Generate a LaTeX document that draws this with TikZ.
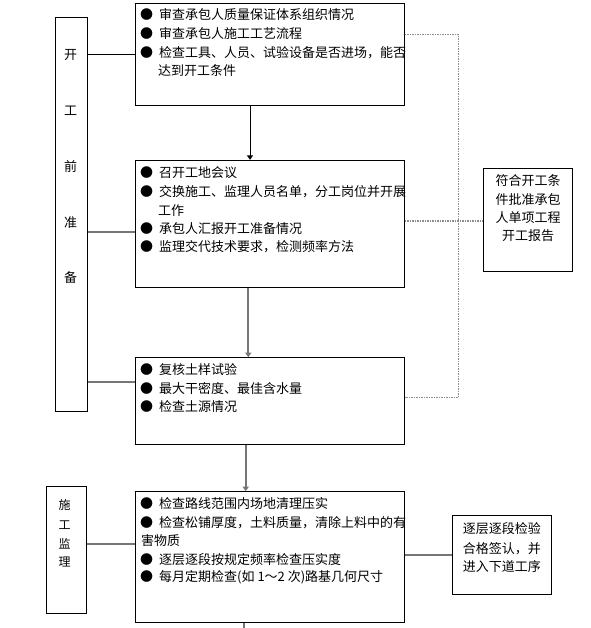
\documentclass[tikz,border=0pt]{standalone}
\usepackage{fontspec}
\setmainfont{Noto Sans CJK SC}
\usetikzlibrary{arrows.meta}
\definecolor{linkgray}{RGB}{118,118,118}
\definecolor{dotgray}{RGB}{140,140,140}
\newcommand{\itm}{\makebox[19pt][l]{●}}
\begin{document}
\begin{tikzpicture}[x=1pt,y=-1pt]
\tikzstyle{box}=[draw,line width=1pt,inner sep=0pt]
\tikzstyle{line}=[anchor=west,inner sep=0pt,font=\fontsize{13}{18}\selectfont]
\tikzstyle{cline}=[line,anchor=center]
\tikzstyle{link}=[draw=linkgray,line width=2pt]
\tikzstyle{thinlink}=[draw=black,line width=1pt]
\tikzstyle{arr}=[link,-{Triangle[width=6pt,length=4.5pt]}]
\tikzstyle{thinarr}=[thinlink,-{Triangle[width=6pt,length=4.5pt]}]
\tikzstyle{dots}=[draw=dotgray,line width=1.5pt,densely dotted]
\useasboundingbox (0,0) rectangle (590,628);
  % frames
  \foreach \name/\cx/\cy/\w/\h in {prep/71/214.2/32/393.7,
                                   b1/269.5/54.5/269/101.6,
                                   b2/269.5/223.7/269/126.7,
                                   b3/269.5/401/269/86.6,
                                   b4/269.5/557.2/269/131,
                                   rep/528/220/89.4/102,
                                   sup/66.7/550/40/126.6,
                                   res/501.7/554.7/98.7/79.3}
    \node[box,minimum width=\w pt,minimum height=\h pt] (\name) at (\cx,\cy) {};
  % vertical labels
  \foreach \ch/\yy [count=\i] in {开/55,工/110.7,前/166.7,准/222.7,备/277.7}
    \node[cline] (p\i) at (70.6,\yy) {\ch};
  \foreach \ch/\yy [count=\i] in {施/505,工/525,监/544,理/562.3}
    \node[cline,font=\fontsize{12}{18}\selectfont] (s\i) at (64.5,\yy) {\ch};
  % box texts
  \foreach \xx/\yy/\txt [count=\i] in {140/15/{\itm 审查承包人质量保证体系组织情况},
                                       140/33.3/{\itm 审查承包人施工工艺流程},
                                       140/52.3/{\itm 检查工具、人员、试验设备是否进场，能否},
                                       158/70.5/{达到开工条件},
                                       140/172.7/{\itm 召开工地会议},
                                       140/191.7/{\itm 交换施工、监理人员名单，分工岗位并开展},
                                       158/210.7/{工作},
                                       140/229/{\itm 承包人汇报开工准备情况},
                                       140/246.7/{\itm 监理交代技术要求，检测频率方法},
                                       140/369.3/{\itm 复核土样试验},
                                       140/388.7/{\itm 最大干密度、最佳含水量},
                                       140/406.7/{\itm 检查土源情况},
                                       140/503.3/{\itm 检查路线范围内场地清理压实},
                                       140/522.7/{\itm 检查松铺厚度，土料质量，清除上料中的有},
                                       141/540.5/{害物质},
                                       140/559.3/{\itm 逐层逐段按规定频率检查压实度},
                                       140/577.3/{\itm 每月定期检查(如 1～2 次)路基几何尺寸},
                                       462.7/528.3/{逐层逐段检验},
                                       462.7/548.3/{合格签认，并},
                                       462.7/566.7/{进入下道工序}}
    \node[line] (t\i) at (\xx,\yy) {\txt};
  \foreach \txt/\yy [count=\i] in {符合开工条/180.7,件批准承包/199.3,人单项工程/217.3,开工报告/236}
    \node[cline] (r\i) at (528,\yy) {\txt};
  % connectors
  \draw[thinlink] (prep.east |- p1) -- (b1.west |- p1);
  \draw[link] (prep.east |- 0,232.3) -- (b2.west |- 0,232.3);
  \draw[link] (prep.east |- 0,381.7) -- (b3.west |- 0,381.7);
  \draw[link] (sup.east |- s3) -- (b4.west |- s3);
  \draw[link] (b4.east |- 0,554.5) -- (res.west |- 0,554.5);
  \draw[thinarr] (b1.south -| 250,0) -- (b2.north -| 250,0);
  \draw[arr] (b2.south -| 248.3,0) -- (b3.north -| 248.3,0);
  \draw[arr] (b3.south -| 245.7,0) -- (b4.north -| 245.7,0);
  \coordinate (tail) at (244,628);
  \draw[link] (b4.south -| tail) -- (tail);
  \coordinate (bus) at (458.5,0);
  \draw[dots] (b1.east |- 0,34.7) -| (bus |- 0,397.5) -- (b3.east |- 0,397.5);
  \draw[dots] (b2.east |- 0,221) -- (rep.west |- 0,221);
\end{tikzpicture}
\end{document}
